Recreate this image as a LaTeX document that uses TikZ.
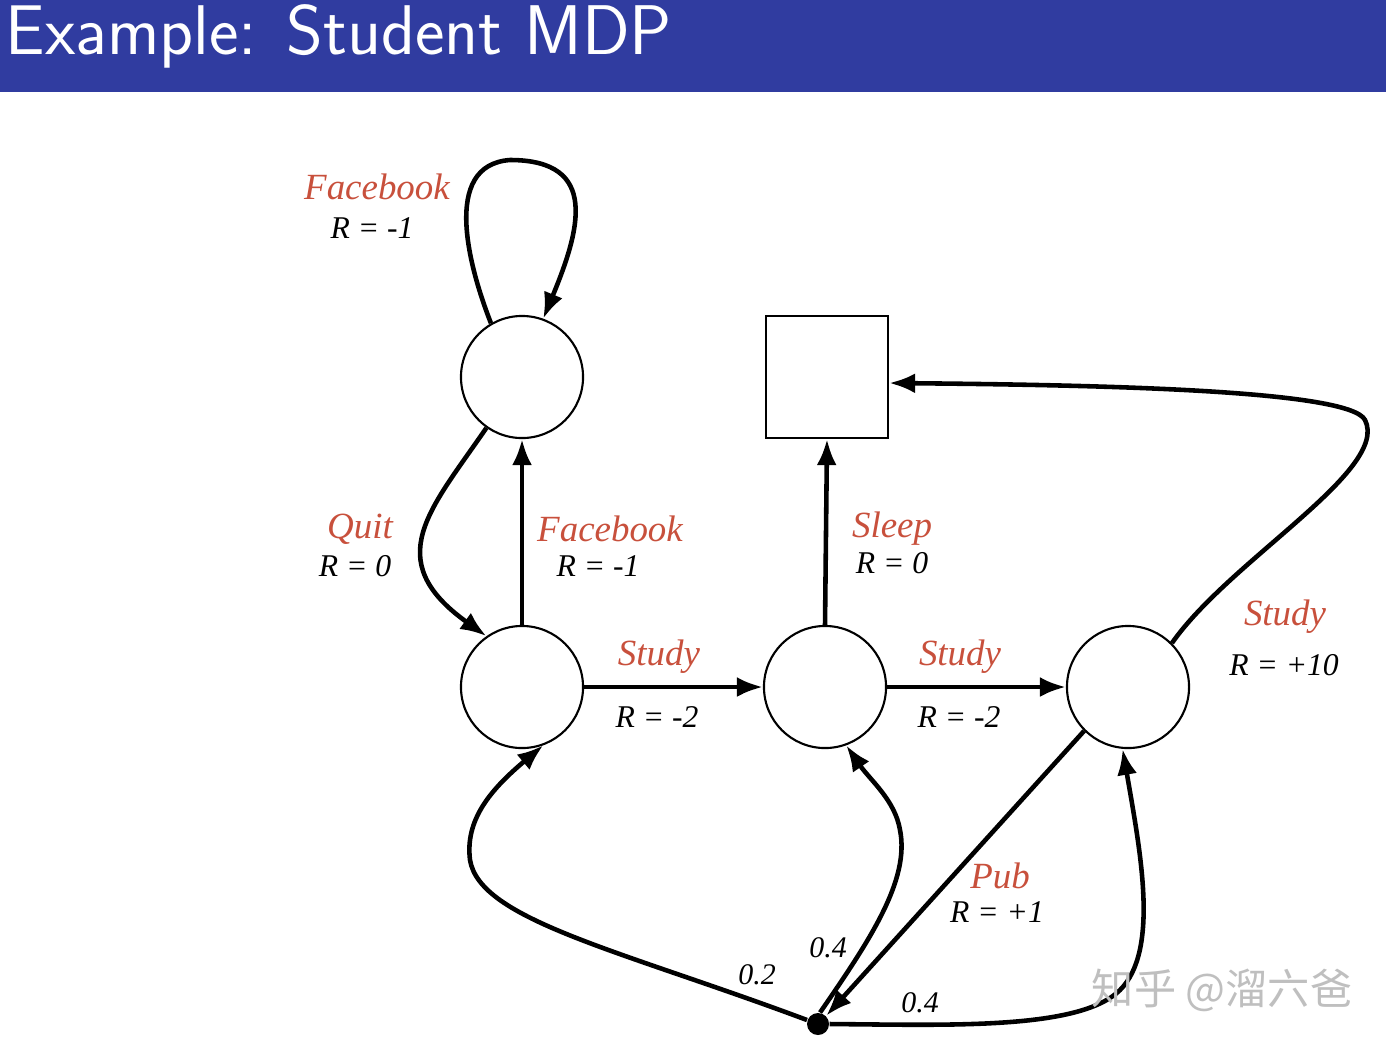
\documentclass[tikz,border=0pt]{standalone}
\usepackage{fontspec}
\setmainfont{Liberation Serif}
\newfontfamily\cjk{Noto Sans CJK SC}
\usetikzlibrary{arrows.meta}
\definecolor{hdr}{RGB}{48,60,160}
\definecolor{lbl}{RGB}{200,80,60}
\begin{document}
\begin{tikzpicture}[x=0.01cm,y=-0.01cm,
  st/.style={draw,circle,minimum size=1.22cm,inner sep=0pt,line width=0.6pt},
  term/.style={draw,rectangle,minimum size=1.22cm,inner sep=0pt,line width=0.6pt},
  ed/.style={line width=1.3pt,-{Latex[length=2.6mm,width=2mm]}},
  act/.style={text=lbl,font=\itshape\fontsize{10.5}{12}\selectfont},
  rw/.style={font=\itshape\fontsize{9}{11}\selectfont},
  pr/.style={font=\itshape\fontsize{8.5}{10}\selectfont}]
\useasboundingbox (0,0) rectangle (1386,1048);
\fill[hdr] (0,0) rectangle (1386,92);
\node[anchor=west,text=white,font=\sffamily\fontsize{20}{24}\selectfont,inner sep=0pt] (title) at (5,36) {Example: Student MDP};
\node[st] (fb) at (522,377) {};
\node[st] (c1) at (522,687) {};
\node[st] (c2) at (825,687) {};
\node[st] (c3) at (1128,687) {};
\node[term] (sl) at (827,377) {};
\node[circle,fill,inner sep=0pt,minimum size=0.22cm] (d) at (818,1024) {};
% facebook loop
\draw[ed] (fb.120) .. controls (470,270) and (440,165) .. (510,160) .. controls (600,160) and (580,230) .. (fb.70);
\draw[ed] (fb.235) .. controls (430,510) and (380,560) .. (c1.125);
\draw[ed] (c1.north) -- (fb.south);
\draw[ed] (c1.east) -- (c2.west);
\draw[ed] (c2.east) -- (c3.west);
\draw[ed] (c2.north) -- (sl.south);
\draw[ed] (c3.45) .. controls (1230,560) and (1390,470) .. (1365,420) .. controls (1350,390) and (1100,385) .. (sl.east |- 0,383);
\draw[ed] (c3.225) -- (d.45);
\draw[ed] (d.160) .. controls (620,950) and (480,920) .. (470,860) .. controls (465,820) and (490,790) .. (c1.290);
\draw[ed] (d.80) .. controls (870,940) and (910,880) .. (900,830) .. controls (895,800) and (870,780) .. (c2.290);
\draw[ed] (d.east) .. controls (950,1025) and (1080,1030) .. (1120,990) .. controls (1160,950) and (1140,850) .. (c3.265);
% labels
\node[act] (l1) at (377,187) {Facebook};
\node[rw] (r1) at (372,228) {R = -1};
\node[act] (l2) at (360,529) {Quit};
\node[rw] (r2) at (355,566) {R = 0};
\node[act] (l3) at (610,529) {Facebook};
\node[rw] (r3) at (598,566) {R = -1};
\node[act] (l4) at (659,657) {Study};
\node[rw] (r4) at (657,717) {R = -2};
\node[act] (l5) at (960,657) {Study};
\node[rw] (r5) at (959,717) {R = -2};
\node[act] (l6) at (892,529) {Sleep};
\node[rw] (r6) at (892,563) {R = 0};
\node[act] (l7) at (1285,617) {Study};
\node[rw] (r7) at (1284,665) {R = +10};
\node[act] (l8) at (1000,876) {Pub};
\node[rw] (r8) at (997,912) {R = +1};
\node[pr] (p1) at (757,975) {0.2};
\node[pr] (p2) at (828,948) {0.4};
\node[pr] (p3) at (920,1003) {0.4};
\node[text=black!25,font=\cjk\fontsize{12}{14}\selectfont] (wm) at (1222,990) {知乎 @溜六爸};
\end{tikzpicture}
\end{document}
